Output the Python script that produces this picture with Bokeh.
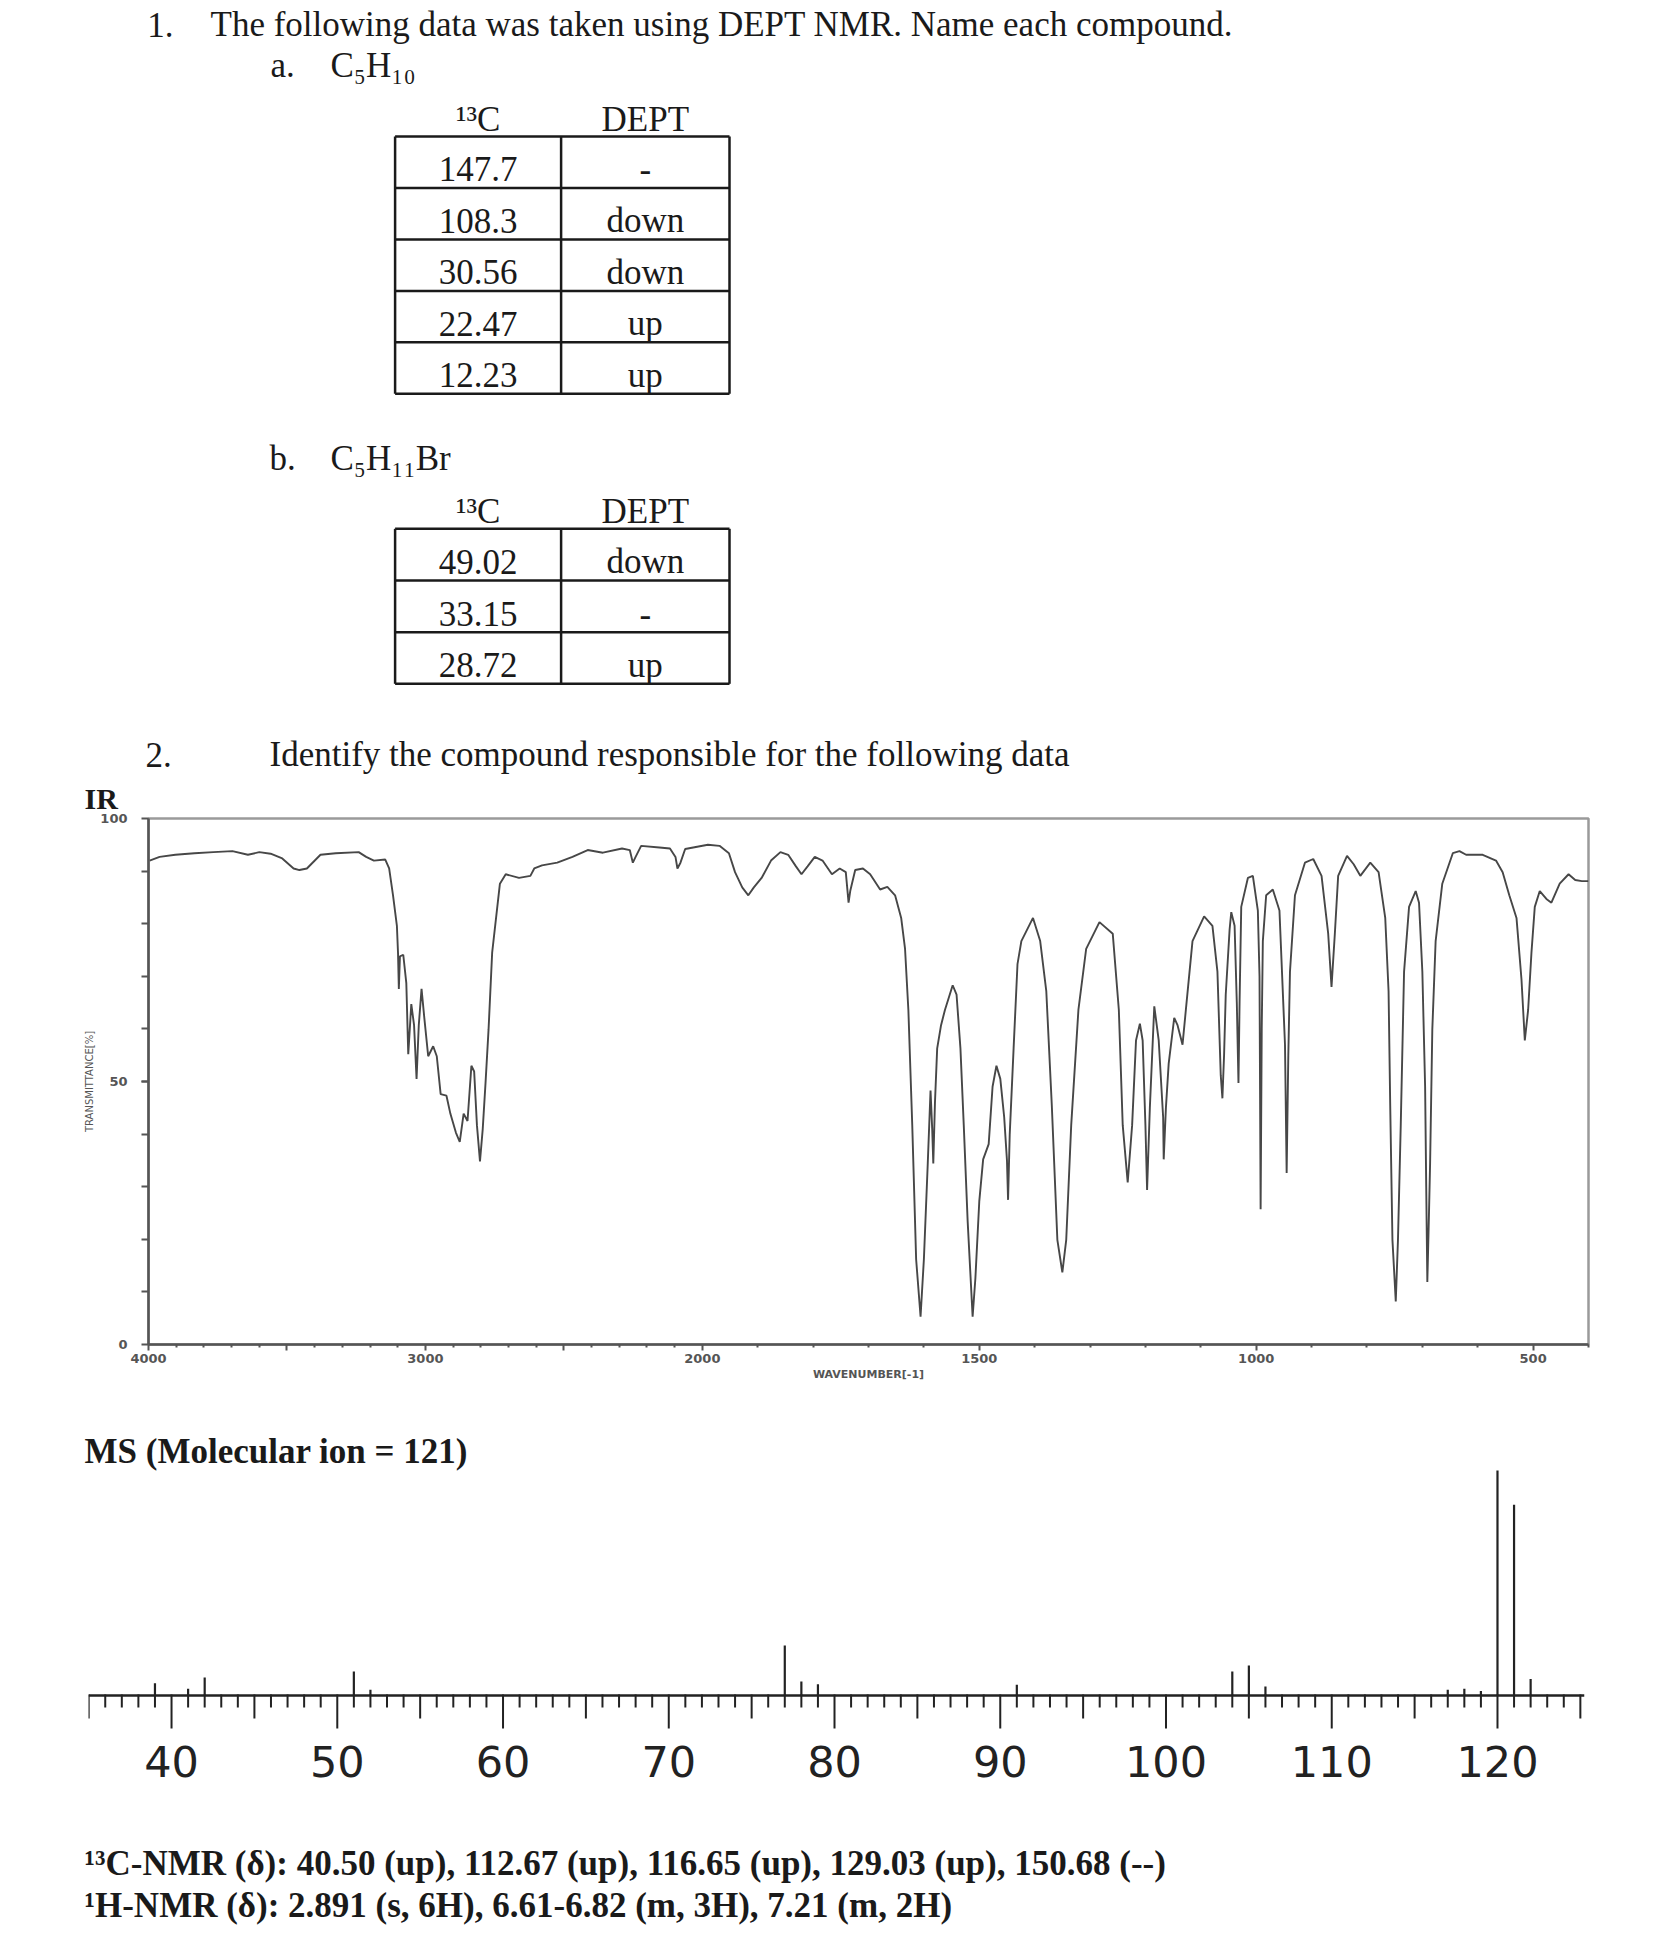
import numpy as np
from bokeh.plotting import figure
from bokeh.models import Range1d, FixedTicker, CustomJSTickFormatter
from bokeh.layouts import column
from bokeh.embed import file_html
from bokeh.resources import INLINE
from bokeh.core.properties import value

# ---------------- data ----------------
dept_a_c13 = ["147.7", "108.3", "30.56", "22.47", "12.23"]
dept_a_mult = ["-", "down", "down", "up", "up"]
dept_b_c13 = ["49.02", "33.15", "28.72"]
dept_b_mult = ["down", "-", "up"]

ir_wavenumber = [
    3996, 3960, 3903, 3834, 3766, 3697, 3641, 3600, 3559, 3517,
    3476, 3455, 3428, 3379, 3324, 3241, 3214, 3186, 3145, 3131,
    3117, 3103, 3099, 3096, 3092, 3080, 3069, 3062, 3051, 3041,
    3032, 3024, 3014, 3004, 2990, 2972, 2959, 2945, 2924, 2910,
    2890, 2876, 2862, 2848, 2834, 2824, 2814, 2803, 2793, 2783,
    2772, 2759, 2731, 2710, 2662, 2621, 2607, 2579, 2524, 2469,
    2414, 2359, 2290, 2262, 2251, 2241, 2221, 2155, 2117, 2097,
    2090, 2079, 2062, 1990, 1969, 1952, 1941, 1928, 1917, 1907,
    1893, 1876, 1859, 1845, 1831, 1821, 1810, 1797, 1783, 1766,
    1752, 1741, 1736, 1733, 1724, 1710, 1697, 1679, 1666, 1652,
    1641, 1634, 1628, 1621, 1614, 1606, 1600, 1593, 1588, 1585,
    1583, 1580, 1576, 1569, 1562, 1548, 1541, 1534, 1528, 1521,
    1512, 1507, 1500, 1493, 1483, 1476, 1469, 1462, 1455, 1450,
    1448, 1445, 1438, 1431, 1424, 1403, 1390, 1379, 1369, 1359,
    1350, 1343, 1334, 1321, 1307, 1283, 1259, 1248, 1241, 1232,
    1224, 1217, 1210, 1205, 1200, 1197, 1192, 1184, 1176, 1168,
    1167, 1163, 1158, 1148, 1142, 1133, 1127, 1115, 1094, 1079,
    1070, 1064, 1061, 1058, 1055, 1048, 1045, 1039, 1035, 1032,
    1030, 1027, 1015, 1006, 997, 994, 992, 990, 988, 982,
    970, 958, 948, 945, 942, 939, 930, 912, 897, 882,
    870, 864, 858, 852, 836, 824, 812, 794, 779, 767,
    761, 758, 754, 748, 744, 739, 733, 724, 712, 706,
    700, 695, 693, 691, 688, 686, 682, 676, 664, 645,
    633, 621, 591, 567, 555, 543, 530, 521, 515, 509,
    503, 497, 488, 476, 467, 452, 436, 424, 412, 400,
]
ir_transmittance = [
    92.0, 92.7, 93.1, 93.4, 93.6, 93.8, 93.1, 93.6, 93.3, 92.4,
    90.5, 90.2, 90.5, 93.1, 93.4, 93.6, 92.7, 92.0, 92.2, 90.5,
    85.4, 79.6, 74.5, 67.6, 73.8, 74.1, 68.7, 55.2, 64.7, 60.7,
    50.5, 60.7, 67.6, 62.1, 54.8, 56.7, 54.8, 47.6, 47.3, 43.9,
    40.3, 38.5, 43.9, 42.5, 53.0, 51.9, 41.7, 34.8, 41.0, 49.7,
    59.9, 74.5, 87.6, 89.4, 88.7, 89.1, 90.5, 91.1, 91.6, 92.7,
    94.0, 93.5, 94.3, 94.0, 91.6, 92.7, 94.8, 94.5, 94.3, 92.7,
    90.5, 91.6, 94.2, 95.0, 94.8, 93.4, 89.8, 86.9, 85.4, 86.9,
    88.7, 92.0, 93.6, 93.1, 90.9, 89.4, 90.9, 92.7, 92.0, 89.4,
    90.5, 89.8, 84.0, 86.2, 90.2, 90.5, 89.4, 86.5, 87.0, 85.4,
    81.1, 75.2, 63.6, 41.7, 16.2, 5.3, 16.2, 34.4, 48.3, 41.0,
    34.4, 46.0, 56.3, 60.7, 63.6, 68.3, 66.5, 56.3, 41.7, 23.5,
    5.3, 12.6, 27.2, 35.2, 38.1, 49.0, 53.0, 50.5, 43.2, 35.0,
    27.5, 40.0, 56.3, 72.3, 76.7, 81.1, 76.7, 67.2, 45.4, 19.9,
    13.7, 19.9, 41.7, 63.6, 75.2, 80.3, 78.1, 63.6, 41.7, 30.8,
    41.7, 57.8, 61.0, 57.8, 41.7, 29.4, 45.0, 64.3, 57.8, 43.2,
    35.2, 45.0, 53.4, 62.1, 60.7, 57.0, 63.6, 76.7, 81.4, 79.6,
    70.9, 51.2, 46.8, 55.0, 66.5, 78.9, 82.2, 79.6, 65.0, 49.7,
    65.0, 83.2, 88.7, 89.1, 82.5, 70.0, 25.7, 60.0, 76.7, 85.4,
    86.5, 82.5, 57.0, 32.6, 55.0, 70.9, 85.4, 91.6, 92.3, 89.1,
    78.1, 68.0, 78.1, 89.1, 92.9, 91.3, 89.1, 91.6, 89.8, 81.1,
    67.2, 45.4, 19.9, 8.2, 19.9, 41.7, 70.9, 83.2, 86.2, 84.0,
    70.9, 49.0, 30.0, 11.9, 25.0, 34.4, 59.9, 76.7, 87.6, 93.4,
    93.8, 93.1, 93.1, 92.0, 89.8, 85.4, 81.1, 69.4, 57.8, 63.6,
    74.5, 83.2, 86.2, 84.7, 84.0, 87.6, 89.4, 88.3, 88.1, 88.1,
]
ir_major_ticks = [4000, 3500, 3000, 2500, 2000, 1500, 1000, 500]
ir_y_ticks = [0, 50, 100]

ms_mz = [39, 41, 42, 51, 52, 77, 78, 79, 91, 104, 105, 106, 117, 118, 119, 120, 121, 122]
ms_intensity = [5.4, 3.0, 7.9, 10.6, 2.5, 22.0, 6.2, 5.0, 4.7, 10.6, 13.2, 4.0, 2.5, 3.0, 2.0, 100.0, 84.0, 7.3]
ms_ticks = [40, 50, 60, 70, 80, 90, 100, 110, 120]

c13_shift = ["40.50", "112.67", "116.65", "129.03", "150.68"]
c13_dept = ["up", "up", "up", "up", "--"]
h1_shift = ["2.891", "6.61-6.82", "7.21"]
h1_mult = ["s, 6H", "m, 3H", "m, 2H"]

# ---------------- style ----------------
SERIF = "Liberation Serif"
FS = "35px"
INK = "#1a1a1a"
W = 1656
TEXT_DY = 9   # svg text renders below the alphabetic anchor by about this much


def page_fig(h, y0):
    p = figure(width=W, height=h, x_range=Range1d(0, W), y_range=Range1d(y0 + h, y0),
               x_axis_type=None, y_axis_type=None, min_border=0, outline_line_color=None,
               toolbar_location=None, output_backend="svg", frame_align=False)
    return p


def put(p, x, y, s, align="left", bold=False):
    p.text(x=[x], y=[y - TEXT_DY], text=[s], text_font=value(SERIF), text_font_size=FS,
           text_align=align, text_baseline="alphabetic", text_color=INK,
           text_font_style="bold" if bold else "normal")


def style_title(p, text, size, offset, standoff):
    p.title.text = text
    p.title.text_font = SERIF
    p.title.text_font_size = size
    p.title.text_font_style = "bold"
    p.title.text_color = INK
    p.title.align = "left"
    p.title.offset = offset
    p.title.standoff = standoff


def table(p, top, row_h, c13, mult):
    xl, xm, xr = 394.6, 560.6, 729.0
    n = len(c13)
    ys = [top + i * row_h for i in range(n + 1)]
    p.segment(x0=[xl] * len(ys), y0=ys, x1=[xr] * len(ys), y1=ys, line_color=INK, line_width=2.5)
    p.segment(x0=[xl, xm, xr], y0=[top] * 3, x1=[xl, xm, xr], y1=[ys[-1]] * 3,
              line_color=INK, line_width=2.5)
    c1, c2 = (xl + xm) / 2, (xm + xr) / 2
    put(p, c1, top - 8, "¹³C", "center")
    put(p, c2, top - 8, "DEPT", "center")
    for i in range(n):
        yb = top + (i + 1) * row_h - 9.5
        put(p, c1, yb, c13[i], "center")
        put(p, c2, yb, mult[i], "center")


# ---------------- top text block (page y 0..776) ----------------
top = page_fig(776, 0)
put(top, 146.7, 33, "1.")
put(top, 210, 33, "The following data was taken using DEPT NMR.  Name each compound.")
put(top, 270, 74, "a.")
put(top, 330, 74, "C₅H₁₀")
table(top, 136.0, 51.46, dept_a_c13, dept_a_mult)
put(top, 269, 467, "b.")
put(top, 330, 467, "C₅H₁₁Br")
table(top, 528.3, 51.67, dept_b_c13, dept_b_mult)
put(top, 145, 763, "2.")
put(top, 269, 763, "Identify the compound responsible for the following data")


# ---------------- IR spectrum (page y 776..1400) ----------------
def wn_to_u(w):
    w = np.asarray(w, dtype=float)
    return np.where(w >= 2000, (4000 - w) / 2.0, 1000 + (2000 - w))


ir = figure(width=W, height=624, x_range=Range1d(0, 2600), y_range=Range1d(0, 100),
            output_backend="svg", toolbar_location=None, frame_align=False,
            min_border_left=148, min_border_right=68, min_border_top=42, min_border_bottom=56)
style_title(ir, "IR", "30px", -64, 7)
ir.xgrid.visible = False
ir.ygrid.visible = False
ir.outline_line_color = "#9a9a9a"
ir.outline_line_width = 2.5

minor_wn = [w for w in range(3900, 399, -100) if w not in ir_major_ticks]
ir.xaxis.ticker = FixedTicker(ticks=[float(v) for v in wn_to_u(ir_major_ticks)],
                              minor_ticks=[float(v) for v in wn_to_u(minor_wn)])
ir.xaxis.formatter = CustomJSTickFormatter(code="""
const w = tick <= 1000 ? 4000 - 2 * tick : 2000 - (tick - 1000);
const r = Math.round(w);
if (r == 3500 || r == 2500) { return ""; }
return String(r);
""")
ir.yaxis.ticker = FixedTicker(ticks=ir_y_ticks, minor_ticks=list(range(10, 100, 10)))
ir.xaxis.axis_label = "WAVENUMBER[-1]"
ir.yaxis.axis_label = "TRANSMITTANCE[%]"
for ax in (ir.xaxis[0], ir.yaxis[0]):
    ax.axis_line_color = "#555555"
    ax.axis_line_width = 2.5
    ax.major_tick_line_color = "#555555"
    ax.minor_tick_line_color = "#555555"
    ax.major_tick_line_width = 2
    ax.minor_tick_line_width = 2
    ax.major_tick_in = 0
    ax.minor_tick_in = 0
    ax.major_label_text_font = "DejaVu Sans"
    ax.major_label_text_font_size = "13px"
    ax.major_label_text_font_style = "bold"
    ax.major_label_text_color = "#555555"
    ax.axis_label_text_font = "DejaVu Sans"
    ax.axis_label_text_font_style = "bold"
    ax.axis_label_text_color = "#555555"
ir.xaxis.major_tick_out = 6
ir.xaxis.minor_tick_out = 3
ir.xaxis.major_label_standoff = 3
ir.xaxis.axis_label_text_font_size = "11px"
ir.xaxis.axis_label_standoff = 2
ir.yaxis.major_tick_out = 7
ir.yaxis.minor_tick_out = 7
ir.yaxis.major_label_standoff = 14
ir.yaxis.axis_label_text_font_size = "10px"
ir.yaxis.axis_label_text_font_style = "normal"
ir.yaxis.axis_label_standoff = 2
ir.line(x=wn_to_u(ir_wavenumber), y=ir_transmittance, line_color="#474747", line_width=1.9)

# ---------------- MS (page y 1400..1800) ----------------
PX_PER_PCT = 2.27
ms = figure(width=W, height=400, x_range=Range1d(34.99, 125.25),
            y_range=Range1d(-40 / PX_PER_PCT, 225 / PX_PER_PCT),
            y_axis_type=None, output_backend="svg", toolbar_location=None, frame_align=False,
            min_border_left=88, min_border_right=72, min_border_top=70, min_border_bottom=65)
style_title(ms, "MS (Molecular ion = 121)", FS, -4, 0)
ms.xgrid.visible = False
ms.ygrid.visible = False
ms.outline_line_color = None
ms.xaxis.ticker = FixedTicker(ticks=ms_ticks, minor_ticks=[])
ms.xaxis.axis_line_color = None
ms.xaxis.major_tick_line_color = None
ms.xaxis.minor_tick_line_color = None
ms.xaxis.major_label_text_font = "DejaVu Sans"
ms.xaxis.major_label_text_font_size = "43px"
ms.xaxis.major_label_text_color = "#222222"
ms.xaxis.major_label_standoff = 4

m_all = np.arange(35, 126)
tick_len = np.where(m_all % 10 == 0, 33, np.where(m_all % 5 == 0, 23, 12)) / PX_PER_PCT
ms.segment(x0=m_all, y0=np.full(len(m_all), 0.4), x1=m_all, y1=-tick_len,
           line_color="#222222", line_width=2)
ms.segment(x0=[35], y0=[0], x1=[125.25], y1=[0], line_color="#222222", line_width=2.5)
ms.segment(x0=ms_mz, y0=[0] * len(ms_mz), x1=ms_mz, y1=ms_intensity,
           line_color="#222222", line_width=2.2)

# ---------------- NMR lines (page y 1800..1939) ----------------
bottom = page_fig(139, 1800)
c13_line = "¹³C-NMR (δ): " + ", ".join(f"{s} ({d})" for s, d in zip(c13_shift, c13_dept))
h1_line = "¹H-NMR (δ): " + ", ".join(f"{s} ({m})" for s, m in zip(h1_shift, h1_mult))
put(bottom, 84, 1872, c13_line, bold=True)
put(bottom, 84, 1914, h1_line, bold=True)

layout = column(top, ir, ms, bottom)
with open("out.html", "w") as f:
    f.write(file_html(layout, INLINE, title="DEPT NMR / IR / MS"))
